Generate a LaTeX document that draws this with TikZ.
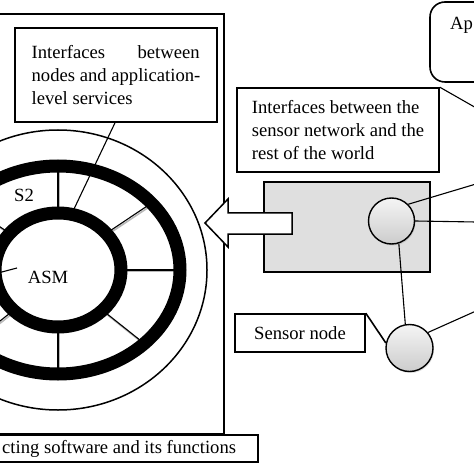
\documentclass[tikz,border=0pt]{standalone}
\usepackage{fontspec}
\setmainfont{Liberation Serif}
\usetikzlibrary{arrows.meta, positioning, shapes.geometric, shadows, calc}

\begin{document}
\begin{tikzpicture}[
            x=1bp, y=-1bp,
            font=\fontsize{18.7}{23.5}\selectfont,
            textbox/.style = {rectangle, draw=black, fill=white, line width=1.6bp, inner sep=0pt},
            sensor/.style = {circle, draw=black, line width=1.4bp, minimum size=46bp, inner sep=0pt, top color=gray!8, bottom color=gray!40, drop shadow={opacity=0.25, shadow xshift=1bp, shadow yshift=-1.5bp}},
            link/.style = {draw, line width=1.1bp},
            spoke/.style = {line width=1.1bp},
            spokeshade/.style = {gray!55, line width=1.6bp},
            ring/.style = {line width=13bp}
        ]
            \useasboundingbox (0,0) rectangle (474,474);

            % software side
            \draw[line width=1.6bp] (-20,14) rectangle (224,434);
            \draw[line width=1.5bp] (58,270) ellipse [x radius=149, y radius=140];
            \foreach \a in {90,40,0,-45,-90,140,225} {
                \draw[spokeshade] ({59+63*cos(\a)},{271.5-57*sin(\a)}) -- ({59+122*cos(\a)},{271.5-104*sin(\a)});
                \draw[spoke] ({58+63*cos(\a)},{270-57*sin(\a)}) -- ({58+122*cos(\a)},{270-104*sin(\a)});
            }
            \draw[ring] (58,270) ellipse [x radius=122, y radius=104];
            \draw[ring] (58,270) ellipse [x radius=63, y radius=57];
            \draw[link] (-2,273) -- (17,268);
            \node (s2) at (24,195) {S2};
            \node (asm) at (48,277) {ASM};

            \node [textbox, minimum width=202bp, minimum height=94bp, align=left] (nodeif) at (116,75)
                {\makebox[168bp][s]{Interfaces\hfill between}\\nodes and application-\\level services};
            \coordinate (ringpt) at (74,209);
            \draw[link] (nodeif.south) ++(-1,0) -- (ringpt);

            \draw[line width=1.6bp] (-20,435) rectangle (258,462);
            \node [anchor=west, inner sep=0pt] (caption) at (2,448.5) {cting software and its functions};

            % sensor network side
            \draw[rounded corners=15bp, line width=1.6bp] (430,2) rectangle (540,82);
            \node [anchor=base west, inner sep=0pt] (apptext) at (450,30) {Ap};

            \node [textbox, minimum width=202bp, minimum height=84bp, align=left] (worldif) at (338,130)
                {Interfaces between the\\sensor network and the\\rest of the world};
            \coordinate (worldpt) at (478,109);
            \draw[link] (worldif.north east) -- (worldpt);

            \node [rectangle, draw=black, fill=gray!25, line width=1.6bp, minimum width=166bp, minimum height=90bp] (field) at (347,227) {};

            \draw[line width=1.5bp, fill=white] (205,223) -- (228,199) -- (228,213) -- (292,213)
                -- (292,234) -- (228,234) -- (228,247) -- cycle;

            \node [sensor] (sink) at (391.5,221) {};
            \node [sensor, minimum size=47bp] (snode) at (409.5,348) {};
            \node [textbox, minimum width=130bp, minimum height=38bp] (snlabel) at (300,333) {Sensor node};

            \coordinate (out1) at (476,184);
            \coordinate (out2) at (476,222);
            \coordinate (out3) at (476,311);
            \draw[link] (sink.45) -- (out1);
            \draw[link] (sink.east) -- (out2);
            \draw[link] (sink.-72) -- (snode.100);
            \draw[link] (snode.40) -- (out3);
            \draw[line width=1.6bp] (snlabel.north east) -- (snode.168);
        \end{tikzpicture}
\end{document}
